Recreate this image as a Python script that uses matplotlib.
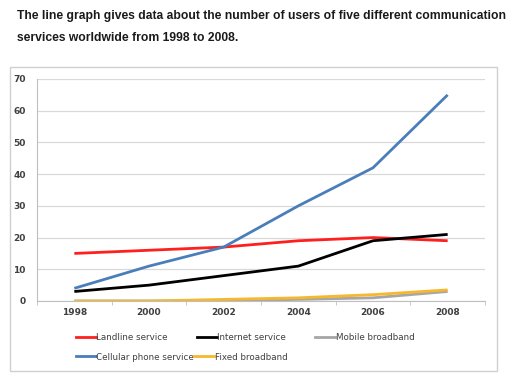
import matplotlib.pyplot as plt
from matplotlib.patches import Rectangle
from matplotlib.lines import Line2D

# Data (millions of users, approx.)
years = ['1998', '2000', '2002', '2004', '2006', '2008']
landline = [15, 16, 17, 19, 20, 19]
cellular = [4, 11, 17, 30, 42, 65]
internet = [3, 5, 8, 11, 19, 21]
fixed_bb = [0, 0, 0.5, 1, 2, 3.5]
mobile_bb = [0, 0, 0, 0.5, 1, 3]

series = [
    ('Landline service', landline, '#ff1f1f'),
    ('Internet service', internet, '#000000'),
    ('Mobile broadband', mobile_bb, '#a6a6a6'),
    ('Cellular phone service', cellular, '#4a7ebb'),
    ('Fixed broadband', fixed_bb, '#f5b82e'),
]

W, H = 512, 383
fig = plt.figure(figsize=(W / 100, H / 100), dpi=100)

# title text
fig.text(17 / W, 1 - 16 / H,
         'The line graph gives data about the number of users of five different communication',
         fontsize=8.7, fontweight='bold', family='Liberation Sans', color='#1a1a1a', va='center')
fig.text(17 / W, 1 - 38 / H, 'services worldwide from 1998 to 2008.',
         fontsize=8.7, fontweight='bold', family='Liberation Sans', color='#1a1a1a', va='center')

# chart frame
fig.patches.append(Rectangle((10 / W, 1 - 371 / H), 487 / W, 304 / H,
                             transform=fig.transFigure, fill=False,
                             edgecolor='#d0d0d0', linewidth=1.0))

ax = fig.add_axes([37 / W, 1 - 301 / H, 448 / W, 222 / H])
x = list(range(len(years)))
# draw order: broadbands underneath
for name, vals, col in [series[2], series[4], series[0], series[1], series[3]]:
    ax.plot(x, vals, color=col, linewidth=2.0, solid_capstyle='butt')

ax.set_xlim(-0.5, 5.5)
ax.set_ylim(0, 70)
ax.set_yticks(range(0, 71, 10))
ax.set_xticks(x)
ax.set_xticklabels(years)
ax.set_xticks([i + 0.5 for i in range(-1, 6)], minor=True)
ax.grid(axis='y', color='#d9d9d9', linewidth=0.9)
ax.set_axisbelow(True)
for s in ['top', 'right']:
    ax.spines[s].set_visible(False)
ax.spines['left'].set_color('#bfbfbf')
ax.spines['bottom'].set_color('#bfbfbf')
ax.tick_params(axis='y', length=0, pad=8, labelsize=6.5, labelcolor='#404040')
ax.tick_params(axis='x', which='major', length=0, pad=5, labelsize=6.5, labelcolor='#404040')
ax.tick_params(axis='x', which='minor', length=3, color='#bfbfbf')
for lab in ax.get_xticklabels() + ax.get_yticklabels():
    lab.set_fontweight('bold')

# legend, two rows under the axis
handles = [Line2D([], [], color=c, linewidth=2.0) for _, _, c in series]
labels = [n for n, _, _ in series]
fig.legend(handles[:3], labels[:3], loc='center left', bbox_to_anchor=(68 / W, 1 - 338 / H),
           ncol=3, frameon=False, fontsize=6.3, handlelength=2.3, handletextpad=0.05,
           columnspacing=3.3, labelcolor='#404040')
fig.legend(handles[3:], labels[3:], loc='center left', bbox_to_anchor=(68 / W, 1 - 357 / H),
           ncol=2, frameon=False, fontsize=6.3, handlelength=2.3, handletextpad=0.05,
           columnspacing=0.0, labelcolor='#404040')

fig.savefig('out.png', dpi=100)
